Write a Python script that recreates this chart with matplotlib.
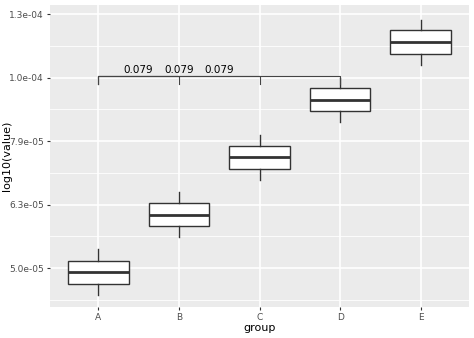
import numpy as np
import matplotlib
matplotlib.use("Agg")
import matplotlib.pyplot as plt

# box statistics per group
groups = ["A", "B", "C", "D", "E"]
whislo = [4.55e-5, 5.60e-5, 6.90e-5, 8.51e-5, 1.047e-4]
q1 = [4.73e-5, 5.83e-5, 7.18e-5, 8.85e-5, 1.090e-4]
med = [4.94e-5, 6.08e-5, 7.49e-5, 9.22e-5, 1.137e-4]
q3 = [5.15e-5, 6.34e-5, 7.81e-5, 9.62e-5, 1.186e-4]
whishi = [5.36e-5, 6.61e-5, 8.13e-5, 1.0e-4, 1.234e-4]

# comparisons against reference group A
comparisons = [("A", "B"), ("A", "C"), ("A", "D")]
p_labels = ["0.079", "0.079", "0.079"]
bracket_y = 1.004e-4

y_ticks = [5.0e-5, 6.3e-5, 7.9e-5, 1.0e-4, 1.3e-4]
y_tick_exp = [-4.3, -4.2, -4.1, -4.0, -3.9]

fig = plt.figure(figsize=(4.74, 3.38), dpi=100)
ax = fig.add_axes([50 / 474, 31 / 338, 419 / 474, 302 / 338])
ax.set_facecolor("#EBEBEB")

stats = []
for i, g in enumerate(groups):
    stats.append(dict(label=g, whislo=whislo[i], q1=q1[i], med=med[i],
                      q3=q3[i], whishi=whishi[i], fliers=[]))

ax.bxp(stats, positions=np.arange(1, 6), widths=0.75, patch_artist=True,
       showcaps=False,
       boxprops=dict(facecolor="white", edgecolor="#333333", linewidth=1.0),
       whiskerprops=dict(color="#333333", linewidth=1.0),
       medianprops=dict(color="#333333", linewidth=2.0),
       zorder=3)

ax.set_yscale("log")
ax.set_xlim(0.4, 5.6)
ax.set_ylim(10 ** -4.3614, 10 ** -3.8858)

# grid like ggplot: major and minor lines in log space
major = [10 ** e for e in y_tick_exp]
minor = [10 ** (e + 0.05) for e in [-4.4] + y_tick_exp]
for v in minor:
    ax.axhline(v, color="white", linewidth=0.6, zorder=1)
for v in major:
    ax.axhline(v, color="white", linewidth=1.2, zorder=1)
for x in range(1, 6):
    ax.axvline(x, color="white", linewidth=1.2, zorder=1)

ax.set_yticks(major)
ax.set_yticklabels(["%.1e" % v for v in y_ticks])
ax.yaxis.set_minor_locator(matplotlib.ticker.NullLocator())
ax.set_xticks(np.arange(1, 6))
ax.set_xticklabels(groups)
ax.tick_params(axis="both", colors="#333333", labelcolor="#4D4D4D",
               labelsize=6.5, length=2.5, width=0.8, pad=2)

for s in ax.spines.values():
    s.set_visible(False)

# brackets
tip = 10 ** (np.log10(bracket_y) - 0.012)
for (g1, g2), lab in zip(comparisons, p_labels):
    x1 = groups.index(g1) + 1
    x2 = groups.index(g2) + 1
    ax.plot([x1, x1, x2, x2], [tip, bracket_y, bracket_y, tip],
            color="#444444", linewidth=0.8, zorder=4)
    ax.text((x1 + x2) / 2, bracket_y * 1.004, lab, ha="center", va="bottom",
            fontsize=7.5, color="black", zorder=5)

ax.set_xlabel("group", fontsize=8, va="center")
ax.set_ylabel("log10(value)", fontsize=8, va="center")
ax.xaxis.set_label_coords(0.5, -(328 - 307) / 302)
ax.yaxis.set_label_coords(-(50 - 7) / 419, 0.5)

fig.savefig("out.png", dpi=100)
